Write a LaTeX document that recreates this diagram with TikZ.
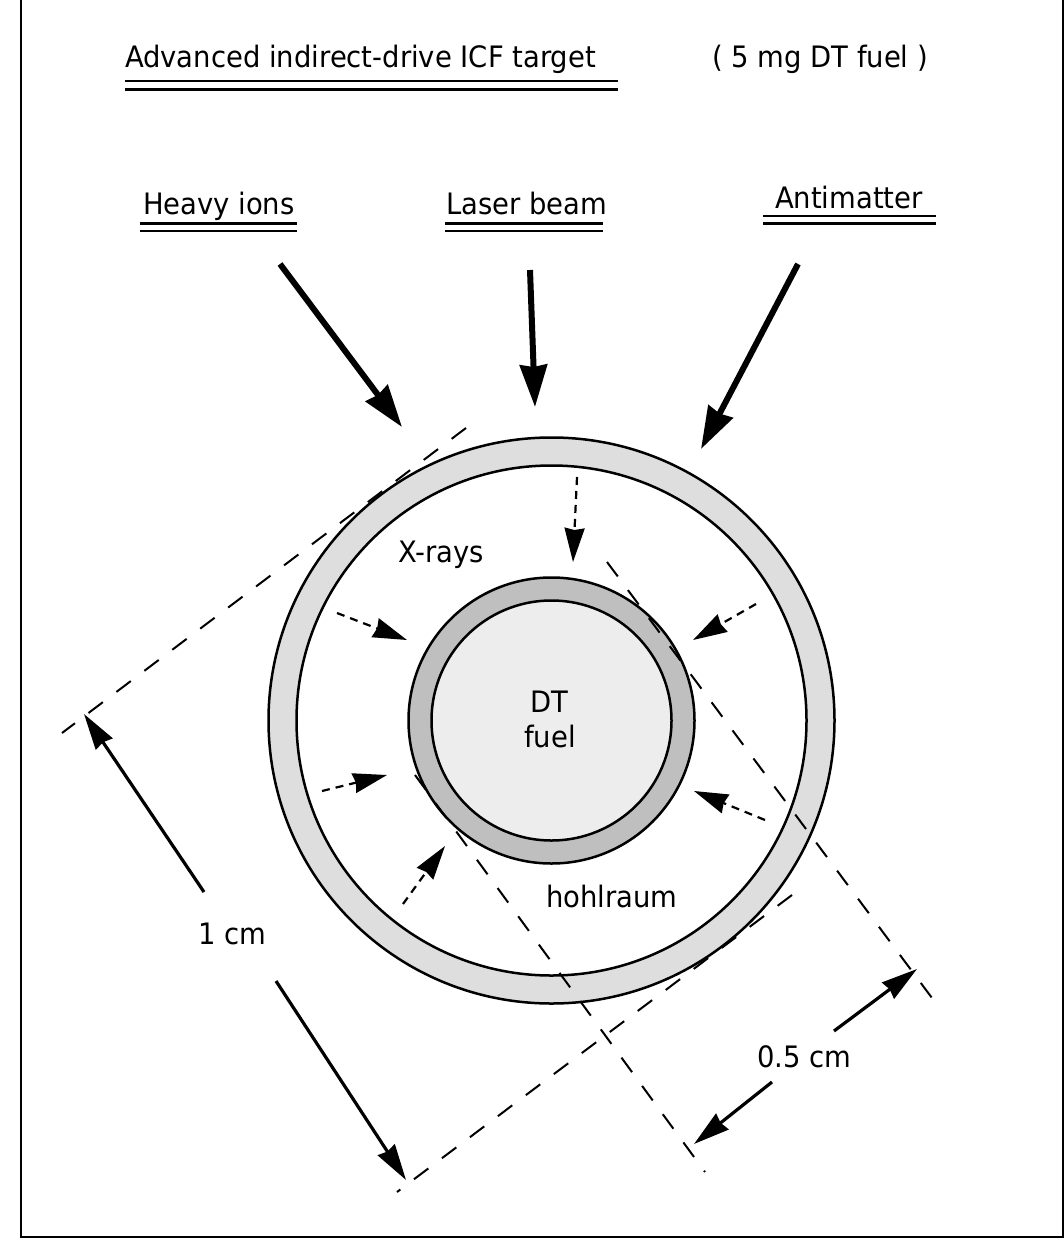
\documentclass[tikz,border=0pt]{standalone}
\usepackage{fontspec}
\setmainfont[FakeStretch=0.93]{DejaVu Sans}
\usetikzlibrary{arrows.meta}
\begin{document}
\begin{tikzpicture}[
	x=1pt, y=-1pt,
	lbl/.style={anchor=base west, inner sep=0pt, outer sep=0pt, font=\fontsize{29.5}{33}\selectfont},
	clbl/.style={lbl, anchor=base},
	ulthin/.style={line width=2pt},
	ulthick/.style={line width=3pt},
	beam/.style={line width=6pt, -{Stealth[length=42pt,width=27pt,inset=2pt]}},
	dimarrow/.style={line width=3.2pt, -{Stealth[length=36pt,width=20pt,inset=2pt]}},
	xray/.style={line width=2.2pt, dash pattern=on 8pt off 6pt, -{Stealth[length=34pt,width=20pt,inset=2pt]}},
	guide/.style={line width=2pt, dash pattern=on 18pt off 17pt},
	ring/.style={draw, line width=2.5pt}
	]
	\useasboundingbox (0,0) rectangle (1064,1247);

	% frame, open at the top
	\draw[line width=2.5pt] (21,-5) -- (21,1237) -- (1063,1237) -- (1063,-5);

	% headings
	\node[lbl] (title) at (125,67) {Advanced indirect-drive ICF target};
	\node[lbl] (mass) at (712,67) {( 5 mg DT fuel )};
	\draw[ulthin] (125,81) -- (618,81);
	\draw[ulthick] (125,89) -- (618,89);

	\node[lbl] (ions) at (143,214) {Heavy ions};
	\node[lbl] (laser) at (446,214) {Laser beam};
	\node[lbl] (anti) at (775,208) {Antimatter};
	\draw[ulthick] (140,223) -- (297,223);
	\draw[ulthin] (140,231) -- (297,231);
	\draw[ulthick] (445,223) -- (603,223);
	\draw[ulthin] (445,231) -- (603,231);
	\draw[ulthin] (763,216) -- (936,216);
	\draw[ulthick] (763,223) -- (936,223);

	% target
	\coordinate (c) at (551.5,720.5);
	\draw[ring, fill=black!13] (c) circle (283);
	\draw[ring, fill=white] (c) circle (255);
	\draw[ring, fill=black!25] (c) circle (143);
	\draw[ring, fill=black!7] (c) circle (120);

	\node[clbl] (dt) at (549,712) {DT};
	\node[clbl] (fuel) at (550,747) {fuel};
	\node[lbl] (xrays) at (398,562) {X-rays};
	\node[lbl] (hohl) at (546,907) {hohlraum};

	% drive beams
	\draw[beam] (280,264) coordinate (b1) -- (402,427) coordinate (b2);
	\draw[beam] (530,270) coordinate (b3) -- (535,407) coordinate (b4);
	\draw[beam] (798,264) coordinate (b5) -- (701,449) coordinate (b6);

	% x-rays
	\draw[xray] (577,477) -- (573,562);
	\draw[xray] (337,613) -- (407,640);
	\draw[xray] (756,604) -- (693,640);
	\draw[xray] (322,791) -- (387,775);
	\draw[xray] (765,820) -- (694,791);
	\draw[xray] (403,904) -- (445,846);

	% guide lines
	\draw[guide] (466,428) coordinate (g1) -- (62,733) coordinate (g2);
	\draw[guide] (792,895) coordinate (g3) -- (397,1192) coordinate (g4);
	\draw[guide] (607,562) coordinate (g5) -- (932,998) coordinate (g6);
	\draw[guide] (415,775) coordinate (g7) -- (705,1172) coordinate (g8);

	% sizes
	\node[lbl] (big) at (198,944) {1 cm};
	\node[lbl] (small) at (757,1067) {0.5 cm};
	\draw[dimarrow] (204,892) coordinate (d1) -- (84,714) coordinate (d2);
	\draw[dimarrow] (276,981) coordinate (d3) -- (406,1180) coordinate (d4);
	\draw[dimarrow] (834,1031) coordinate (d5) -- (917,969) coordinate (d6);
	\draw[dimarrow] (772,1082) coordinate (d7) -- (694,1144) coordinate (d8);
\end{tikzpicture}
\end{document}
